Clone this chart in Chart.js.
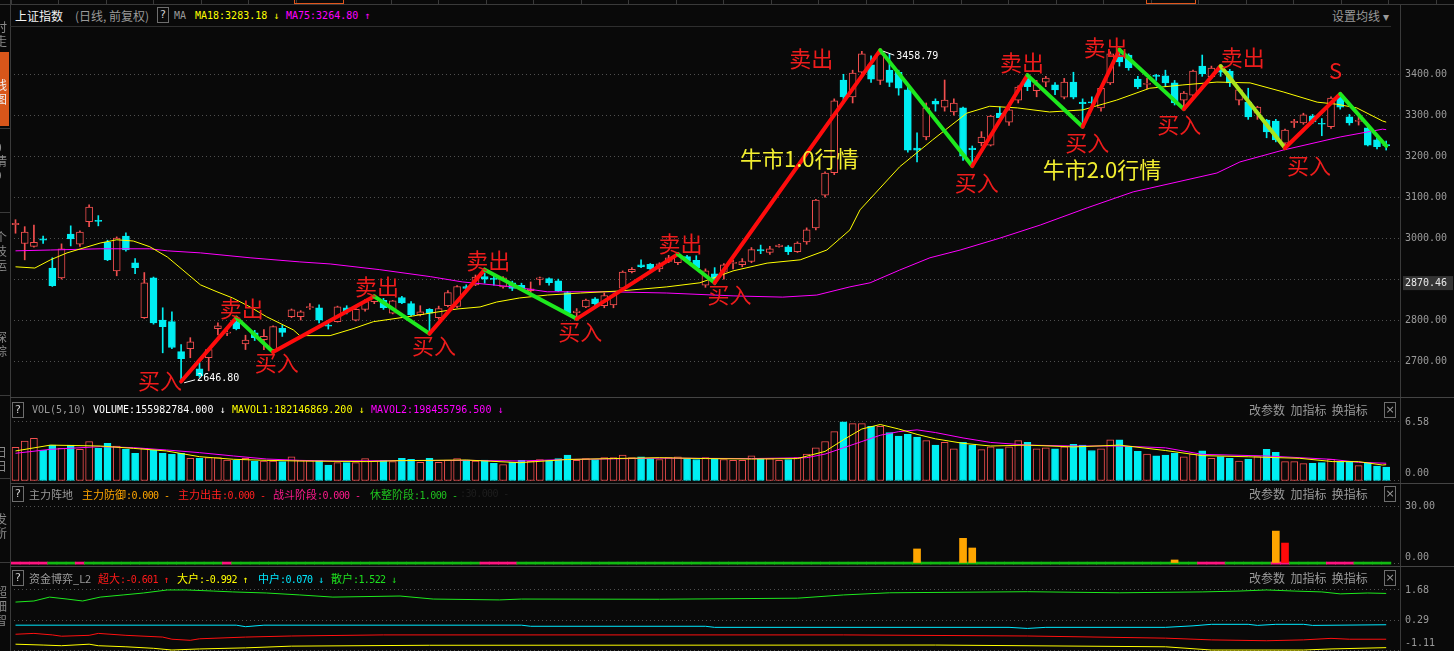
<!DOCTYPE html>
<html>
<head>
<meta charset="utf-8">
<script src="https://cdn.jsdelivr.net/npm/chart.js@4.4.1/dist/chart.umd.min.js"></script>
<style>
  body { margin: 0; width: 1454px; height: 651px; overflow: hidden; background: #090909; position: relative;
         font-family: "Noto Sans CJK SC", sans-serif; }
  canvas { position: absolute; }
  .t { position: absolute; white-space: nowrap; font-size: 12px; line-height: 16px; color: #9a9a9a; }
  .s { font-size: 11px; }
  .m { font-family: "DejaVu Sans Mono", monospace; font-size: 10px; }
  .n { font-family: "DejaVu Sans Mono", monospace; font-size: 10px; letter-spacing: -0.6px; }
  .q { position: absolute; width: 10px; height: 14px; border: 1px solid #6e6e6e; color: #cfcfcf;
       font: 11px/14px "DejaVu Sans", sans-serif; text-align: center; }
  .ln { position: absolute; background: #3a3a3a; }
  .side { position: absolute; left: -5px; width: 14px; font-size: 12px; line-height: 14px; color: #8a8a8a; overflow: hidden; }
</style>
</head>
<body>

<canvas id="main" width="1444" height="368" style="left:10px;top:28px"></canvas>
<canvas id="vol" width="1444" height="71" style="left:10px;top:412px"></canvas>
<canvas id="force" width="1444" height="65" style="left:10px;top:500px"></canvas>
<canvas id="fund" width="1444" height="68" style="left:10px;top:583px"></canvas>

<!-- frame -->
<div class="ln" style="left:11px;top:0;width:1443px;height:4px;background:repeating-linear-gradient(90deg,#3a3a3a 0 1px,transparent 1px 47.5px)"></div>
<div class="ln" style="left:0;top:4px;width:1454px;height:1px"></div>
<div class="ln" style="left:10px;top:0;width:1px;height:651px"></div>
<div class="ln" style="left:1400px;top:5px;width:1px;height:646px"></div>
<div class="ln" style="left:10px;top:26px;width:1381px;height:1px;background:#2e2e2e"></div>
<div class="ln" style="left:10px;top:397px;width:1444px;height:1px;background:#444"></div>
<div class="ln" style="left:10px;top:483px;width:1444px;height:1px;background:#444"></div>
<div class="ln" style="left:10px;top:566px;width:1444px;height:1px;background:#444"></div>
<div class="ln" style="left:294px;top:0;width:48px;height:3px;background:none;border:1px solid #e0561c;border-top:none"></div>
<div class="ln" style="left:1146px;top:0;width:48px;height:3px;background:none;border:1px solid #e0561c;border-top:none"></div>
<div class="ln" style="left:0;top:52px;width:9px;height:74px;background:#d8561a"></div>
<div class="ln" style="left:0;top:128px;width:10px;height:1px"></div>
<div class="ln" style="left:0;top:212px;width:10px;height:1px"></div>
<div class="ln" style="left:0;top:395px;width:10px;height:1px"></div>
<div class="ln" style="left:0;top:478px;width:10px;height:1px"></div>
<div class="ln" style="left:0;top:562px;width:10px;height:1px"></div>
<div class="side" style="top:20px">时<br>走</div>
<div class="side" style="top:78px;color:#f0f0f0">线<br>图</div>
<div class="side" style="top:140px">0<br>情<br>9</div>
<div class="side" style="top:230px">个<br>技<br>运</div>
<div class="side" style="top:330px">深<br>综</div>
<div class="side" style="top:445px">日<br>日</div>
<div class="side" style="top:512px">发<br>所</div>
<div class="side" style="top:585px">超<br>细<br>智</div>

<!-- main header -->
<div class="t" style="left:15px;top:8px;color:#f2f2f2">上证指数</div>
<div class="t" style="left:75px;top:8px">(日线, 前复权)</div>
<div class="q" style="left:157px;top:7px">?</div>
<div class="t m" style="left:174px;top:8px;color:#9a9a9a">MA</div>
<div class="t m" style="left:195px;top:8px;color:#ffff00">MA18:3283.18 ↓</div>
<div class="t m" style="left:286px;top:8px;color:#ff00ff">MA75:3264.80 ↑</div>
<div class="t" style="left:1332px;top:8px">设置均线 ▾</div>

<!-- volume header -->
<div class="q" style="left:12px;top:402px">?</div>
<div class="t m" style="left:32px;top:402px">VOL(5,10)</div>
<div class="t m" style="left:93px;top:402px;color:#ffffff">VOLUME:155982784.000 ↓</div>
<div class="t m" style="left:232px;top:402px;color:#ffff00">MAVOL1:182146869.200 ↓</div>
<div class="t m" style="left:371px;top:402px;color:#ff00ff">MAVOL2:198455796.500 ↓</div>
<div class="t" style="left:1249px;top:402px">改参数&nbsp;&nbsp;加指标&nbsp;&nbsp;换指标</div>
<div class="q" style="left:1384px;top:402px;color:#9a9a9a">×</div>

<!-- force header -->
<div class="q" style="left:12px;top:486px">?</div>
<div class="t s" style="left:29px;top:486px">主力阵地</div>
<div class="t s" style="left:82px;top:486px;color:#ffa500">主力防御<span class="n">:0.000 -</span></div>
<div class="t s" style="left:178px;top:486px;color:#ff2020">主力出击<span class="n">:0.000 -</span></div>
<div class="t s" style="left:273px;top:486px;color:#ff1a8c">战斗阶段<span class="n">:0.000 -</span></div>
<div class="t s" style="left:370px;top:486px;color:#1fc11f">休整阶段<span class="n">:1.000 -</span></div>
<div class="t n" style="left:460px;top:486px;color:#1e1e1e">:30.000 -</div>
<div class="t" style="left:1249px;top:486px">改参数&nbsp;&nbsp;加指标&nbsp;&nbsp;换指标</div>
<div class="q" style="left:1384px;top:486px;color:#9a9a9a">×</div>

<!-- fund header -->
<div class="q" style="left:12px;top:570px">?</div>
<div class="t s" style="left:29px;top:570px">资金博弈_L2</div>
<div class="t s" style="left:98px;top:570px;color:#ff1a1a">超大<span class="n">:-0.601 ↑</span></div>
<div class="t s" style="left:177px;top:570px;color:#ffff00">大户<span class="n">:-0.992 ↑</span></div>
<div class="t s" style="left:258px;top:570px;color:#00e8ff">中户<span class="n">:0.070 ↓</span></div>
<div class="t s" style="left:331px;top:570px;color:#1ee01e">散户<span class="n">:1.522 ↓</span></div>
<div class="t" style="left:1249px;top:570px">改参数&nbsp;&nbsp;加指标&nbsp;&nbsp;换指标</div>
<div class="q" style="left:1384px;top:570px;color:#9a9a9a">×</div>

<script>
// daily candles, index 0..149
const candleOpen = [
  3033,2987,2980,2998,2927,2903,3010,2985,3040,3043, 2990,2920,3005,2940,2806,2903,2800,2796,2723,2730,
  2681,2708,2779,2768,2796,2742,2769,2752,2728,2780, 2808,2808,2830,2830,2788,2796,2830,2800,2826,2845,
  2848,2817,2855,2840,2813,2826,2806,2835,2833,2882, 2886,2906,2902,2881,2891,2885,2872,2899,2901,2896,
  2867,2818,2832,2852,2835,2837,2878,2918,2935,2936, 2925,2943,2940,2955,2946,2885,2913,2917,2938,2935,
  2943,2972,2965,2979,2979,2967,2991,3025,3105,3160, 3386,3345,3405,3423,3385,3410,3405,3362,3220,3247,
  3334,3320,3308,3318,3220,3233,3227,3305,3283,3337, 3390,3360,3381,3374,3344,3381,3332,3333,3318,3379,
  3445,3447,3388,3375,3397,3396,3379,3337,3349,3420, 3394,3418,3408,3337,3332,3305,3288,3286,3232,3282,
  3281,3298,3280,3272,3349,3296,3285,3269,3240,3228
];
const candleClose = [
  3036,3015,2990,2995,2884,2974,2998,3015,3076,3041, 2947,3000,2971,2928,2891,2793,2784,2733,2706,2747,
  2664,2728,2786,2770,2779,2751,2757,2760,2784,2770, 2825,2820,2833,2800,2785,2832,2821,2826,2845,2855,
  2830,2847,2842,2813,2820,2817,2828,2867,2882,2877, 2905,2900,2899,2903,2877,2878,2876,2903,2891,2872,
  2818,2822,2849,2840,2860,2861,2917,2924,2930,2925, 2937,2952,2958,2945,2928,2920,2898,2935,2941,2943,
  2972,2969,2974,2983,2967,2988,3020,3093,3159,3335, 3345,3403,3450,3388,3450,3380,3366,3215,3215,3318,
  3327,3337,3330,3200,3216,3247,3298,3294,3313,3369, 3370,3375,3391,3362,3381,3344,3328,3330,3366,3450,
  3430,3416,3369,3378,3395,3379,3330,3354,3408,3401, 3415,3405,3379,3362,3296,3320,3259,3240,3264,3285,
  3301,3284,3278,3342,3320,3281,3287,3227,3223,3226
];
const candleHigh = [
  3045,3028,3032,3005,2952,2986,3030,3018,3081,3055, 2995,3003,3013,2950,2916,2905,2830,2820,2740,2757,
  2696,2730,2793,2778,2800,2763,2775,2777,2786,2787, 2827,2823,2840,2837,2795,2834,2835,2828,2850,2858,
  2853,2848,2858,2845,2835,2828,2834,2872,2884,2886, 2910,2915,2910,2906,2895,2890,2893,2905,2903,2900,
  2870,2828,2851,2855,2866,2864,2920,2928,2947,2938, 2940,2958,2962,2958,2957,2925,2928,2938,2946,2950,
  2977,2983,2980,2985,2982,2991,3025,3095,3162,3340, 3400,3410,3456,3445,3458.79,3450,3410,3370,3257,3330,
  3340,3386,3340,3320,3225,3260,3300,3320,3330,3372, 3398,3385,3395,3380,3390,3405,3340,3345,3370,3455,
  3458,3450,3395,3390,3400,3410,3385,3358,3410,3447, 3420,3422,3412,3366,3366,3322,3290,3290,3266,3290,
  3305,3302,3292,3345,3352,3302,3296,3272,3245,3237
];
const candleLow = [
  3012,2947,2978,2987,2882,2900,2981,2980,3028,3030, 2945,2908,2968,2913,2804,2790,2720,2730,2646.8,2708,
  2660,2676,2764,2762,2776,2728,2750,2728,2726,2760, 2806,2800,2826,2793,2778,2795,2815,2798,2822,2840,
  2826,2815,2840,2810,2810,2768,2802,2832,2830,2870, 2884,2890,2885,2878,2872,2873,2868,2886,2885,2870,
  2815,2805,2830,2835,2830,2830,2875,2915,2928,2922, 2918,2940,2935,2940,2925,2880,2886,2900,2925,2930,
  2940,2962,2960,2978,2960,2965,2985,3020,3100,3155, 3330,3330,3400,3380,3375,3370,3349,3210,3186,3240,
  3310,3310,3300,3190,3176,3225,3225,3290,3275,3330, 3360,3345,3370,3350,3340,3340,3272,3320,3310,3375,
  3420,3410,3365,3365,3385,3370,3325,3315,3345,3395, 3390,3395,3370,3325,3290,3290,3245,3235,3220,3270,
  3278,3280,3250,3268,3315,3276,3276,3225,3218,3215
];
// volume, 1e8 shares
const volume = [
  3.75,4.46,4.76,3.46,4.0,3.64,4.0,3.53,4.39,3.64, 4.2,3.9,3.53,3.09,3.64,3.46,3.09,2.98,3.09,2.53,
  2.53,2.6,2.6,2.34,2.34,2.53,2.23,2.23,2.23,2.16, 2.7,2.27,2.27,2.27,1.78,2.05,2.05,2.05,2.5,2.23,
  2.3,2.16,2.53,2.42,2.09,2.53,2.09,2.34,2.5,2.34, 2.23,2.34,1.97,1.82,2.09,2.3,2.2,2.4,2.3,2.5,
  2.9,2.3,2.5,2.4,2.6,2.6,2.9,2.6,2.7,2.5, 2.4,2.6,2.7,2.5,2.4,2.6,2.5,2.4,2.3,2.3,
  2.8,2.5,2.5,2.3,2.4,2.6,3.0,3.7,4.4,5.5, 6.6,6.4,6.4,6.1,6.1,5.4,5.0,5.2,4.9,4.5,
  4.0,4.3,3.6,4.3,4.0,3.5,3.8,3.6,3.8,4.5, 4.3,3.6,3.7,3.6,3.8,4.1,4.0,3.4,3.6,4.6,
  4.6,3.9,3.3,3.0,2.8,2.9,3.1,2.7,3.0,3.35, 2.53,2.71,2.53,2.23,2.45,2.71,3.53,3.2,2.16,2.16,
  1.93,1.97,2.04,2.42,2.16,2.16,1.71,2.04,1.67,1.56
];

// moving averages: [candle index, value]
const ma18 = [
  [0,2930],[2.1,2927],[3.8,2947],[5.6,2964],[9.2,2988],[11,2996],[12.8,2993],[14.6,2979],[16.5,2954],
  [18.2,2922],[20.1,2886],[21.9,2869],[23.6,2854],[25.5,2832],[27.3,2808],[30.2,2776],[30.9,2762],
  [34.2,2762],[36.7,2779],[38.9,2796],[43.2,2810],[45.1,2817],[48,2827],[50.5,2832],[52.3,2844],
  [54.8,2854],[57.8,2861],[61.4,2866],[65.7,2871],[70.8,2881],[74.4,2891],[78,2920],[81.7,2939],
  [85.3,2947],[88.2,2971],[90.7,3020],[91.8,3069],[96.1,3174],[99.7,3240],[103.4,3305],[105.9,3322],
  [108.9,3318],[112.4,3308],[116,3313],[119.7,3337],[123.3,3366],[126.9,3374],[130.6,3381],
  [134.2,3379],[137.8,3357],[141.5,3332],[143.6,3327],[145.8,3318],[148.6,3286],[149,3283.18]
];
const ma75 = [
  [0,2969],[3.8,2971],[9.2,2974],[14.6,2974],[16.5,2969],[20.1,2964],[25.5,2952],[30.9,2942],
  [34.2,2937],[39.6,2923],[45.1,2906],[48.6,2893],[54.1,2881],[57.8,2869],[64.6,2869],[70.8,2866],
  [78,2859],[83.4,2856],[87.1,2861],[90.7,2881],[92.9,2891],[96.1,2922],[99.4,2952],[102.7,2971],
  [107,3000],[111.4,3032],[116.5,3074],[121.5,3113],[123.3,3122],[130.6,3159],[133.1,3186],
  [137.8,3215],[144,3247],[148.6,3266],[149,3264.8]
];
const mavol1 = [
  [0,3.35],[3.8,4.0],[9.2,3.9],[12.8,3.64],[16.4,3.35],[20,2.71],[23.7,2.42],[27.3,2.3],[30.9,2.23],
  [38.2,2.16],[41.8,2.27],[49,2.34],[54.8,2.04],[60,2.4],[65,2.5],[70,2.6],[75,2.5],[80,2.45],[85,2.5],
  [88,3.3],[90,4.6],[92,5.8],[94,6.3],[96,5.8],[98,5.2],[100,4.7],[103,4.2],[106,3.9],[110,4.0],
  [115,3.8],[120,4.0],[125,3.4],[129,2.83],[134,2.7],[139.6,2.53],[143.2,2.16],[146,2.16],[148.6,1.78],[149,1.82]
];
const mavol2 = [
  [0,3.09],[3.8,3.53],[9.2,3.83],[12.8,3.72],[16.4,3.46],[20,3.16],[23.7,2.79],[27.3,2.45],[30.9,2.3],
  [34.5,2.23],[41.8,2.27],[49,2.3],[54.8,2.23],[60,2.4],[70,2.55],[80,2.5],[86,2.6],[88,3.0],[90,3.7],
  [92,4.4],[94,5.1],[96,5.5],[98,5.7],[100,5.4],[103,4.8],[106,4.3],[110,4.0],[115,3.9],[120,3.9],
  [125,3.7],[129,2.97],[136,2.79],[143,2.42],[146,2.08],[149,1.98]
];

// buy / sell turning points
const zigzag = [
  [18,2650],[24,2806],[28,2722],[39,2858],[45,2767],[51,2923],[61,2803],[72,2961],[76,2891],[94,3459],
  [104,3176],[110,3398],[116,3272],[120,3460],[127,3315],[131,3420],[138,3220],[144,3352],[149,3225]
];
const signalText = [
  [15.7,2651,"买入"],[24.6,2827,"卖出"],[28.4,2695,"买入"],[39.3,2881,"卖出"],[45.5,2737,"买入"],
  [51.4,2944,"卖出"],[61.4,2771,"买入"],[72.3,2986,"卖出"],[77.6,2861,"买入"],[86.5,3437,"卖出"],
  [104.5,3135,"买入"],[109.4,3428,"卖出"],[116.5,3232,"买入"],[118.5,3464,"卖出"],[126.5,3276,"买入"],
  [133.4,3440,"卖出"],[143.5,3408,"S"],[140.6,3176,"买入"]
];
const phaseText = [[85.2,3195,"牛市1.0行情"],[118.1,3166,"牛市2.0行情"]];

// 主力阵地: 1 = 休整阶段, 2 = 战斗阶段
const phase = Array(150).fill(1);
[0,1,2,3,7,23,51,52,53,54,129,130,131,137,138,143,144,145].forEach(i => phase[i] = 2);
const defendBars = [[98,7.4],[103,13],[104,7.9],[126,1.6],[137,16.8]];
const attackBars = [[138,10.5]];

// 资金博弈 lines
const fundRetail = [
  [0,1.12],[2,1.17],[3.7,1.35],[5.6,1.26],[7.3,1.17],[9.2,1.35],[11.7,1.45],[13.9,1.54],[16.5,1.68],
  [18.6,1.68],[21.5,1.63],[23.6,1.59],[27.3,1.54],[30.9,1.45],[34.5,1.35],[41.8,1.4],[45.4,1.26],
  [52.6,1.22],[55,1.26],[70,1.25],[85,1.3],[90,1.45],[95,1.55],[110,1.6],[120,1.55],[129,1.59],
  [133,1.63],[136,1.68],[139,1.63],[142,1.59],[144,1.5],[147,1.54],[149,1.52]
];
const fundMid = [
  [0,0.05],[24,0.05],[25,-0.02],[27,0.05],[55,0.05],[56,0.0],[75,0.0],[76,-0.05],[108,-0.05],[110,-0.1],
  [112,-0.05],[125,-0.05],[128,0.02],[130,0.09],[134,0.09],[135,0.04],[137,0.09],[140,0.09],[141,0.04],[149,0.07]
];
const fundHuge = [
  [0,-0.37],[2,-0.33],[4,-0.4],[5,-0.46],[8,-0.42],[9,-0.33],[12,-0.42],[16,-0.5],[17,-0.6],[19,-0.65],
  [20,-0.58],[25,-0.5],[30,-0.45],[40,-0.4],[90,-0.4],[110,-0.45],[125,-0.55],[130,-0.63],[136,-0.67],
  [140,-0.63],[143,-0.56],[145,-0.6],[149,-0.6]
];
const fundBig = [
  [0,-0.83],[3,-0.87],[5,-0.9],[8,-0.83],[9,-0.9],[12,-0.95],[15,-1.02],[17,-1.1],[20,-1.05],[25,-1.0],
  [30,-0.92],[45,-0.88],[100,-0.87],[125,-0.95],[130,-1.1],[140,-1.1],[143,-1.05],[149,-0.99]
];

const BG = "#090909";
const UP = "#f24f4f";
const DN = "#00eef2";
const X_MIN = -0.6, X_MAX = 150.5;

const idx = candleOpen.map((_, i) => i);
const isUp = idx.map(i => candleClose[i] >= candleOpen[i]);
const pts = arr => arr.map(([x, y]) => ({ x, y }));

Chart.register({
  id: "sideLabels",
  afterDraw(chart, args, opts) {
    const { ctx, chartArea, scales } = chart;
    ctx.save();
    ctx.font = '10px "DejaVu Sans Mono", monospace';
    ctx.textBaseline = "middle";
    for (const it of opts.items || []) {
      const y = scales.y.getPixelForValue(it.v) + (it.dy || 0);
      const x = chartArea.right + 5;
      if (it.box) {
        ctx.fillStyle = "#343434";
        ctx.fillRect(x - 2, y - 7, 50, 14);
        ctx.fillStyle = "#e8e8e8";
      } else ctx.fillStyle = "#9a9a9a";
      ctx.fillText(it.text, x, y);
    }
    ctx.restore();
  }
});

function options(yMin, yMax, ticks, labels) {
  return {
    responsive: false, animation: false, events: [],
    layout: { padding: 0 },
    plugins: { legend: { display: false }, tooltip: { enabled: false }, sideLabels: { items: labels } },
    scales: {
      x: { type: "linear", min: X_MIN, max: X_MAX, offset: false, bounds: "ticks", display: false },
      y: {
        position: "right", min: yMin, max: yMax,
        afterFit: s => { s.width = 54; },
        afterBuildTicks: s => { s.ticks = ticks.map(v => ({ value: v })); },
        ticks: { display: false },
        border: { display: false, dash: [1, 3] },
        grid: { color: "#505050", drawTicks: false }
      }
    }
  };
}

const lineDs = (data, color, order, width) => ({
  type: "line", data: pts(data), borderColor: color, borderWidth: width || 1,
  pointRadius: 0, tension: 0, order
});

// ---- main price chart
const priceTicks = [2700, 2800, 2900, 3000, 3100, 3200, 3300, 3400];
const mainOpts = options(2614.6, 3513.0, priceTicks,
  priceTicks.map(v => v === 2900 ? { v, text: "2870.46", dy: 4, box: true } : { v, text: v.toFixed(2) }));

const mainMarks = {
  id: "mainMarks",
  afterDatasetsDraw(chart) {
    const { ctx, scales: { x, y } } = chart;
    ctx.save();
    ctx.textAlign = "center";
    ctx.textBaseline = "middle";
    ctx.font = '22px "Noto Sans CJK SC"';
    ctx.fillStyle = "#ee1c1c";
    signalText.forEach(([i, p, s]) => ctx.fillText(s, x.getPixelForValue(i), y.getPixelForValue(p)));
    ctx.fillStyle = "#f2ee30";
    phaseText.forEach(([i, p, s]) => ctx.fillText(s, x.getPixelForValue(i), y.getPixelForValue(p)));

    // highest / lowest marks
    const hi = candleHigh.indexOf(Math.max(...candleHigh));
    const lo = candleLow.indexOf(Math.min(...candleLow));
    ctx.font = '10px "DejaVu Sans Mono", monospace';
    ctx.textAlign = "left";
    ctx.strokeStyle = "#ffffff";
    ctx.fillStyle = "#ffffff";
    ctx.lineWidth = 1;
    let px = x.getPixelForValue(hi), py = y.getPixelForValue(candleHigh[hi]);
    ctx.beginPath(); ctx.moveTo(px + 3, py + 1); ctx.lineTo(px + 14, py + 5); ctx.stroke();
    ctx.fillText(candleHigh[hi].toFixed(2), px + 16, py + 6);
    px = x.getPixelForValue(lo); py = y.getPixelForValue(candleLow[lo]);
    ctx.beginPath(); ctx.moveTo(px + 3, py); ctx.lineTo(px + 14, py - 3); ctx.stroke();
    ctx.fillText(candleLow[lo].toFixed(2), px + 16, py - 4);
    ctx.restore();
  }
};

new Chart(document.getElementById("main"), {
  data: {
    datasets: [
      {
        type: "line", data: pts(zigzag), borderWidth: 4, pointRadius: 0, order: 0,
        borderCapStyle: "round", borderJoinStyle: "round",
        segment: {
          borderColor: c => c.p1.parsed.y > c.p0.parsed.y ? "#ff0c0c"
            : (c.p0DataIndex === 15 ? "#a8e41c" : "#1ee81e")
        }
      },
      lineDs(ma18, "#ffff00", 1),
      lineDs(ma75, "#ff00ff", 1),
      {
        type: "bar", order: 2, grouped: false, barThickness: 7, minBarLength: 1,
        data: idx.map(i => ({ x: i, y: [Math.min(candleOpen[i], candleClose[i]), Math.max(candleOpen[i], candleClose[i])] })),
        backgroundColor: idx.map(i => isUp[i] ? BG : DN),
        borderColor: idx.map(i => isUp[i] ? UP : DN),
        borderWidth: 1, borderSkipped: false
      },
      {
        type: "bar", order: 3, grouped: false, barThickness: 1,
        data: idx.map(i => ({ x: i, y: [candleLow[i], candleHigh[i]] })),
        backgroundColor: idx.map(i => isUp[i] ? UP : DN)
      }
    ]
  },
  options: mainOpts,
  plugins: [mainMarks]
});

// ---- volume
new Chart(document.getElementById("vol"), {
  data: {
    datasets: [
      lineDs(mavol1, "#ffff00", 0),
      lineDs(mavol2, "#ff00ff", 0),
      {
        type: "bar", order: 1, grouped: false, barThickness: 7,
        data: idx.map(i => ({ x: i, y: volume[i] })),
        backgroundColor: idx.map(i => isUp[i] ? BG : DN),
        borderColor: idx.map(i => isUp[i] ? UP : DN),
        borderWidth: 1, borderSkipped: false
      }
    ]
  },
  options: options(-0.223, 7.692, [0, 6.58], [{ v: 6.58, text: "6.58" }, { v: 0, text: "0.00", dy: -8 }])
});

// ---- 主力阵地
new Chart(document.getElementById("force"), {
  data: {
    datasets: [
      {
        type: "bar", order: 0, grouped: false, barThickness: 7,
        data: defendBars.map(([x, y]) => ({ x, y })), backgroundColor: "#ffa500"
      },
      {
        type: "bar", order: 0, grouped: false, barThickness: 7,
        data: attackBars.map(([x, y]) => ({ x, y })), backgroundColor: "#ff0a0a"
      },
      {
        type: "bar", order: 1, grouped: false, barThickness: 9.4,
        data: idx.map(i => ({ x: i, y: [-0.6, 0.5] })),
        backgroundColor: idx.map(i => phase[i] === 2 ? "#ff1480" : "#12b812")
      }
    ]
  },
  options: options(-1.05, 33.16, [0, 30], [{ v: 30, text: "30.00" }, { v: 0, text: "0.00", dy: -6 }])
});

// ---- 资金博弈
new Chart(document.getElementById("fund"), {
  data: {
    datasets: [
      lineDs(fundRetail, "#1ee81e", 0),
      lineDs(fundMid, "#00e8ff", 0),
      lineDs(fundHuge, "#ff1010", 0),
      lineDs(fundBig, "#ffff00", 0)
    ]
  },
  options: options(-1.145, 2.003, [-1.11, 0.29, 1.68],
    [{ v: 1.68, text: "1.68" }, { v: 0.29, text: "0.29" }, { v: -1.11, text: "-1.11", dy: -7 }])
});
</script>
</body>
</html>
